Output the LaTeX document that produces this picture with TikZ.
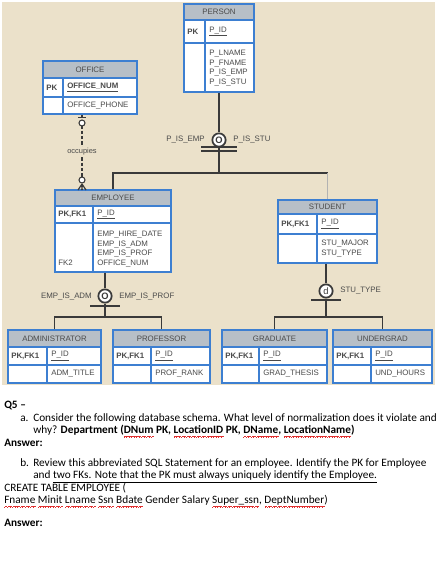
\documentclass[tikz,border=0pt]{standalone}
\usepackage{fontspec}
\setmainfont{Carlito}
\newfontfamily\arialf{Liberation Sans}
\usetikzlibrary{fit,calc}
\definecolor{beige}{HTML}{EBE1CA}
\definecolor{entblue}{HTML}{3D7FD1}
\definecolor{titlegrey}{HTML}{B7BFC7}
\definecolor{txtgrey}{HTML}{4A4A4A}
\definecolor{linegrey}{HTML}{3A3A3A}
\definecolor{spellred}{HTML}{E03030}
\newsavebox\wavebox
\newcommand\wvunit{\hbox{\rule[-2.7pt]{0.45pt}{0.45pt}\rule[-2.35pt]{0.45pt}{0.45pt}\rule[-2.0pt]{0.45pt}{0.45pt}\rule[-2.35pt]{0.45pt}{0.45pt}}}
\newcommand\redwave[1]{\sbox\wavebox{#1}\leavevmode\rlap{\usebox\wavebox}\hbox to \wd\wavebox{{\color{spellred}\xleaders\wvunit\hfil}}}
\tikzset{
  ent/.style={draw=entblue, line width=0.9pt, inner sep=0pt},
  etxt/.style={font=\arialf\fontsize{5.9}{7.1}\selectfont, text=txtgrey, inner sep=0pt},
  conn/.style={draw=linegrey, line width=0.9pt},
  faint/.style={draw=black!30, line width=0.9pt},
  isa/.style={circle, draw=linegrey, line width=1.3pt, fill=white, minimum size=10pt, inner sep=0pt, font=\arialf\bfseries\fontsize{7}{7}\selectfont, text=linegrey},
  zc/.style={circle, draw=linegrey, line width=0.8pt, fill=white, minimum size=4.5pt, inner sep=0pt},
  txt/.style={font=\fontsize{8.45}{9}\selectfont, inner sep=0pt, anchor=base west, text=black}
}
% name x1 y1 x2 y2 ytitle ypk xdiv title
\newcommand\entbox[9]{%
  \def\eL{#2}\def\eT{#3}\def\eR{#4}\def\eB{#5}\def\eY{#6}\def\eP{#7}\def\eD{#8}%
  \fill[white] (#2,#3) rectangle (#4,#5);
  \fill[titlegrey] (#2,#3) rectangle (#4,#6);
  \draw[entblue, line width=0.9pt] (#2,#6) -- (#4,#6) (#2,#7) -- (#4,#7) (#8,#6) -- (#8,#5);
  \node[ent, fit={(#2,#3) (#4,#5)}] (#1) {};
  \node[etxt] (#1-title) at ({(#2+#4)/2},{(#3+#6)/2}) {#9};
}
\newcommand\entpk[3]{%
  \node[etxt, anchor=west, font=\arialf\bfseries\fontsize{5.9}{7.1}\selectfont] (#1-pk) at ({\eL+3},{(\eY+\eP)/2}) {#2};
  \node[etxt, anchor=west] (#1-pka) at ({\eD+4},{(\eY+\eP)/2}) {#3};
}
\newcommand\entattr[3]{%
  \node[etxt, anchor=north west, align=left] (#1-attr) at ({\eD+4},{\eP+#2}) {#3};
}
\newcommand\entattrc[2]{%
  \node[etxt, anchor=west] (#1-attr) at ({\eD+4},{(\eP+\eB)/2}) {#2};
}
\begin{document}
\begin{tikzpicture}[x=0.75pt, y=-0.75pt]
\useasboundingbox (0,0) rectangle (439,568);
\fill[white] (0,0) rectangle (439,568);
\fill[beige] (2,2) rectangle (435,385);

% entities
\entbox{person}{184}{4}{254}{92}{20}{43}{205}{PERSON}
\entpk{person}{PK}{\underline{P\_ID}}
\entattr{person}{7}{P\_LNAME\\P\_FNAME\\P\_IS\_EMP\\P\_IS\_STU}

\entbox{office}{43}{61}{137}{114}{78}{97}{63}{OFFICE}
\entpk{office}{PK}{\textbf{\underline{OFFICE\_NUM}}}
\entattrc{office}{OFFICE\_PHONE}

\entbox{emp}{55}{190}{171}{272}{206}{223}{93}{EMPLOYEE}
\entpk{emp}{PK,FK1}{\underline{P\_ID}}
\entattr{emp}{8}{EMP\_HIRE\_DATE\\EMP\_IS\_ADM\\EMP\_IS\_PROF\\OFFICE\_NUM}
\node[etxt, anchor=west] (emp-fk2) at (58,263) {FK2};

\entbox{stu}{278}{200}{377}{263}{214}{234}{317}{STUDENT}
\entpk{stu}{PK,FK1}{\underline{P\_ID}}
\entattr{stu}{6}{STU\_MAJOR\\STU\_TYPE}

\entbox{admin}{8}{330}{101}{383}{347}{365}{47}{ADMINISTRATOR}
\entpk{admin}{PK,FK1}{\underline{P\_ID}}
\entattrc{admin}{ADM\_TITLE}

\entbox{prof}{113}{330}{210}{383}{347}{365}{151}{PROFESSOR}
\entpk{prof}{PK,FK1}{\underline{P\_ID}}
\entattrc{prof}{PROF\_RANK}

\entbox{grad}{222}{330}{327}{383}{347}{365}{259}{GRADUATE}
\entpk{grad}{PK,FK1}{\underline{P\_ID}}
\entattrc{grad}{GRAD\_THESIS}

\entbox{under}{333}{330}{432}{383}{347}{365}{371}{UNDERGRAD}
\entpk{under}{PK,FK1}{\underline{P\_ID}}
\entattrc{under}{UND\_HOURS}

% PERSON subtypes
\coordinate (pj) at (219,173);
\node[isa] (pcirc) at (219,140) {O};
\node[etxt, anchor=east] (pemp) at (205,140) {P\_IS\_EMP};
\node[etxt, anchor=west] (pstu) at (233,140) {P\_IS\_STU};
\draw[conn] (person.south -| pcirc) -- (pcirc);
\draw[conn] (pcirc) -- (pj);
\draw[conn] (201,147) -- (237,147) (201,151) -- (237,151);
\draw[conn] (emp.north) |- (pj) -- (pj -| stu.north);
\draw[faint] (pj -| stu.north) -- (stu.north);

% occupies
\coordinate (ox) at (82,150);
\draw[conn, dash pattern=on 2.5pt off 1.5pt] (office.south -| ox) -- (emp.north -| ox);
\node[etxt, fill=beige, inner sep=1pt, font=\arialf\fontsize{5.6}{6}\selectfont] (occ) at (82,152) {occupies};
\draw[conn] (78,117.5) -- (86,117.5);
\node[zc] (oc1) at (82,123) {};
\node[zc] (oc2) at (82,180) {};
\draw[conn] (82,184) -- (78,190) (82,184) -- (82,190) (82,184) -- (86,190);

% EMPLOYEE subtypes
\coordinate (ej) at (105,317);
\node[isa] (ecirc) at (105,296) {O};
\node[etxt, anchor=east] (eadm) at (92,297) {EMP\_IS\_ADM};
\node[etxt, anchor=west] (eprof) at (119,297) {EMP\_IS\_PROF};
\draw[conn] (emp.south -| ecirc) -- (ecirc);
\draw[conn] (ecirc) -- (ej);
\draw[conn] (90,306) -- (120,306);
\draw[conn] (admin.north) |- (ej) -| (prof.north);

% STUDENT subtypes
\coordinate (dj) at (326,317);
\node[isa, font=\arialf\fontsize{7}{7}\selectfont] (dcirc) at (326,291) {d};
\node[etxt, anchor=west] (dlab) at (340,291) {STU\_TYPE};
\draw[conn] (stu.south -| dcirc) -- (dcirc);
\draw[conn] (dcirc) -- (dj);
\draw[conn] (311,300) -- (341,300);
\draw[conn] (grad.north) |- (dj) -| (under.north);

% question text
\node[txt] (q5) at (4,408.5) {\textbf{Q5 –}};
\node[txt] (qa) at (20,421.5) {a.};
\node[txt] (qa1) at (33,421.5) {Consider the following database schema. What level of normalization does it violate and};
\node[txt] (qa2) at (33,433.5) {why? \textbf{Department (\redwave{DNum} PK, \redwave{LocationID} PK, \redwave{DName}, \redwave{LocationName})}};
\node[txt] (ans1) at (4,446.5) {\textbf{Answer:}};
\node[txt] (qb) at (20,466.5) {b.};
\node[txt] (qb1) at (33,466.5) {Review this abbreviated SQL Statement for an employee. Identify the PK for Employee};
\node[txt] (qb2) at (33,478.5) {and \underline{two FKs. Note that the PK must always uniquely identify the Employee.}};
\node[txt] (sql1) at (4,491.5) {CREATE TABLE EMPLOYEE (};
\node[txt] (sql2) at (4,503.5) {\redwave{Fname} \redwave{Minit} \redwave{Lname} \redwave{Ssn} \redwave{Bdate} Gender Salary \redwave{Super\_ssn}, \redwave{DeptNumber})};
\node[txt] (ans2) at (4,526.5) {\textbf{Answer:}};
\end{tikzpicture}
\end{document}
